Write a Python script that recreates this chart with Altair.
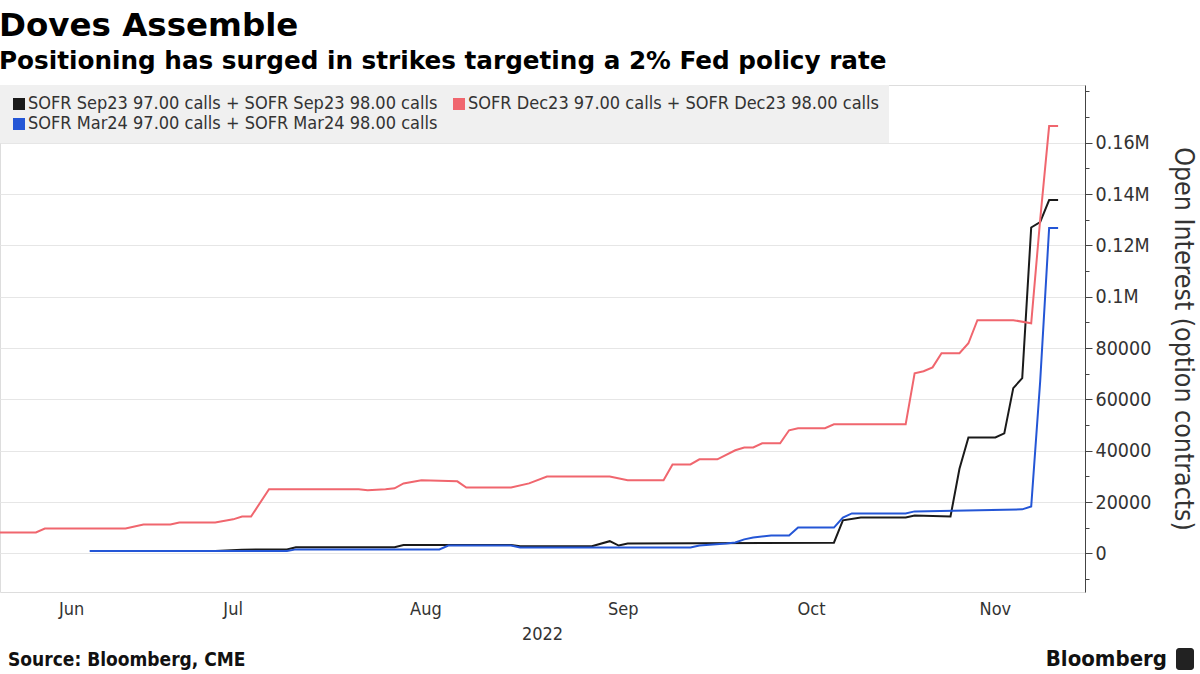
import altair as alt
import pandas as pd

# Trading calendar for the window on the chart (exchange holidays removed);
# the x axis runs on trading days, as Bloomberg charts do.
HOLIDAYS = ["2022-06-20", "2022-07-04", "2022-09-05", "2022-11-24"]
trading_days = pd.bdate_range("2022-06-08", "2022-11-30", freq="C", holidays=HOLIDAYS)
day_index = {d.strftime("%Y-%m-%d"): i for i, d in enumerate(trading_days)}

SERIES = [
    "SOFR Sep23 97.00 calls + SOFR Sep23 98.00 calls",
    "SOFR Dec23 97.00 calls + SOFR Dec23 98.00 calls",
    "SOFR Mar24 97.00 calls + SOFR Mar24 98.00 calls",
]
COLORS = ["#1a1a1a", "#f0666e", "#2456d6"]

# Open interest (option contracts), vertices of each line
sep23_dates = ["2022-07-12", "2022-07-14", "2022-07-19", "2022-07-26", "2022-07-27",
               "2022-08-11", "2022-08-12", "2022-08-30", "2022-08-31", "2022-09-13",
               "2022-09-15", "2022-09-16", "2022-09-19", "2022-10-20", "2022-10-21",
               "2022-10-25", "2022-11-01", "2022-11-02", "2022-11-08", "2022-11-09",
               "2022-11-10", "2022-11-15", "2022-11-16", "2022-11-17", "2022-11-18",
               "2022-11-21", "2022-11-22", "2022-11-23", "2022-11-25"]
sep23_values = [1000, 1000, 1500, 1600, 2400,
                2400, 3300, 3300, 2800, 2800,
                4800, 3100, 3900, 4200, 12900,
                14000, 14000, 14800, 14400, 33000,
                45200, 45200, 46800, 64400, 68300,
                127000, 129100, 137700, 137700]

dec23_dates = ["2022-06-08", "2022-06-14", "2022-06-15", "2022-06-29", "2022-07-01",
               "2022-07-07", "2022-07-08", "2022-07-14", "2022-07-18", "2022-07-19",
               "2022-07-20", "2022-07-22", "2022-08-05", "2022-08-08", "2022-08-10",
               "2022-08-11", "2022-08-12", "2022-08-16", "2022-08-22", "2022-08-23",
               "2022-08-30", "2022-09-01", "2022-09-06", "2022-09-15", "2022-09-19",
               "2022-09-23", "2022-09-26", "2022-09-28", "2022-09-29", "2022-10-03",
               "2022-10-05", "2022-10-06", "2022-10-07", "2022-10-10", "2022-10-12",
               "2022-10-13", "2022-10-14", "2022-10-19", "2022-10-20", "2022-11-01",
               "2022-11-02", "2022-11-03", "2022-11-04", "2022-11-07", "2022-11-09",
               "2022-11-10", "2022-11-11", "2022-11-17", "2022-11-21", "2022-11-22",
               "2022-11-23", "2022-11-25"]
dec23_values = [8200, 8200, 9700, 9700, 11300,
                11300, 12100, 12100, 13300, 14400,
                14400, 25000, 25000, 24600, 25000,
                25400, 27300, 28500, 28100, 25700,
                25700, 27300, 30000, 30000, 28500,
                28500, 34700, 34700, 36700, 36700,
                40200, 41300, 41300, 42900, 42900,
                48000, 48800, 48800, 50300, 50300,
                70200, 71000, 72500, 78000, 78000,
                81900, 90900, 90900, 89700, 130000,
                166500, 166500]

mar24_dates = ["2022-06-23", "2022-07-26", "2022-07-27", "2022-08-18", "2022-08-19",
               "2022-08-30", "2022-08-31", "2022-09-28", "2022-09-29", "2022-10-04",
               "2022-10-05", "2022-10-06", "2022-10-07", "2022-10-11", "2022-10-13",
               "2022-10-14", "2022-10-20", "2022-10-21", "2022-10-24", "2022-11-01",
               "2022-11-02", "2022-11-18", "2022-11-21", "2022-11-22", "2022-11-23",
               "2022-11-25"]
mar24_values = [1000, 1000, 1600, 1600, 3100,
                3100, 2300, 2300, 3100, 3900,
                4300, 5500, 6200, 7000, 7000,
                10100, 10100, 14000, 15600, 15600,
                16400, 17200, 18300, 67000, 126800,
                126800]

rows = []
for name, dates, values in zip(SERIES, [sep23_dates, dec23_dates, mar24_dates],
                               [sep23_values, dec23_values, mar24_values]):
    for d, v in zip(dates, values):
        rows.append({"series": name, "date": d, "idx": day_index[d], "value": v})
df = pd.DataFrame(rows)

# Month boundaries (first trading day) and label positions (middle of each month)
last_idx = len(trading_days) - 1
months = pd.Series(range(len(trading_days)), index=trading_days)
month_starts, month_rows = [], []
for period, grp in months.groupby(trading_days.to_period("M")):
    start = grp.iloc[0]
    end = min(grp.iloc[-1] + 1, last_idx)
    if start > 0:
        month_starts.append(int(start))
    month_rows.append({"label": period.strftime("%b"), "mid": (start + end) / 2})
month_df = pd.DataFrame(month_rows)

FONT = "DejaVu Sans Condensed, DejaVu Sans"
TEXT = "#333333"
W, H = 1085, 507

x_scale = alt.Scale(domain=[0, last_idx], nice=False, zero=False)
y_scale = alt.Scale(domain=[-15000, 182500], nice=False, zero=False)
color_scale = alt.Scale(domain=SERIES, range=COLORS)

major = "datum.value >= 0 && datum.value <= 160000 && datum.value % 20000 == 0"

y_axis = alt.Axis(
    orient="right",
    values=list(range(-10000, 190000, 10000)),
    labelExpr=f"({major}) ? (datum.value >= 100000 ? format(datum.value / 1000000, '.2~f') + 'M' : format(datum.value, 'd')) : ''",
    labelFont=FONT, labelFontSize=19.5, labelColor=TEXT, labelPadding=3,
    domain=True, domainColor="#444444", domainWidth=1,
    ticks=True, tickColor="#444444", tickWidth=1,
    tickSize={"condition": {"test": major, "value": 7}, "value": 4},
    grid=True, gridColor="#e6e6e6", gridWidth=1,
    gridOpacity={"condition": {"test": major, "value": 1}, "value": 0},
    title="Open Interest (option contracts)", titleFont=FONT, titleFontSize=26.5,
    titleFontWeight="normal", titleColor=TEXT, titlePadding=18,
)

x_axis = alt.Axis(
    values=month_starts, labels=False, domain=False, title=None,
    grid=True, gridColor="#e6e6e6", gridWidth=1,
    ticks=True, tickSize=28, tickColor="#e6e6e6", tickWidth=1,
)

legend = alt.Legend(
    title=None, orient="none", legendX=0, legendY=0, columns=2, direction="horizontal",
    symbolType="square", symbolSize=144, symbolStrokeWidth=0,
    labelFont=FONT, labelFontSize=18, labelColor=TEXT, labelLimit=800, labelOffset=0,
    fillColor="#f0f0f0", padding=10, columnPadding=12, rowPadding=2,
)

# Filled legend swatches come from this layer (the points themselves have zero size)
swatches = alt.Chart(pd.DataFrame({"series": SERIES})).mark_square(size=0, opacity=1).encode(
    color=alt.Color("series:N", scale=color_scale, legend=legend),
)

lines = alt.Chart(df).mark_line(strokeWidth=2).encode(
    x=alt.X("idx:Q", scale=x_scale, axis=x_axis),
    y=alt.Y("value:Q", scale=y_scale, axis=y_axis),
    color=alt.Color("series:N", scale=color_scale, legend=legend),
)

month_labels = alt.Chart(month_df).mark_text(
    font=FONT, fontSize=18, color=TEXT, baseline="middle", align="center"
).encode(
    x=alt.X("mid:Q", scale=x_scale, axis=None),
    y=alt.value(H + 18),
    text="label:N",
)

year_label = alt.Chart(pd.DataFrame({"t": ["2022"]})).mark_text(
    font=FONT, fontSize=18, color=TEXT, baseline="middle", align="center"
).encode(text="t:N", x=alt.value(W / 2), y=alt.value(H + 43))

source = alt.Chart(pd.DataFrame({"t": ["Source: Bloomberg, CME"]})).mark_text(
    font=FONT, fontSize=19, fontWeight="bold", color="#111111", align="left", baseline="middle"
).encode(text="t:N", x=alt.value(8), y=alt.value(H + 68))

brand = alt.Chart(pd.DataFrame({"t": ["Bloomberg"]})).mark_text(
    font=FONT, fontSize=22, fontWeight="bold", color="#111111", align="right", baseline="middle"
).encode(text="t:N", x=alt.value(1167), y=alt.value(H + 67))

logo = alt.Chart(pd.DataFrame({"t": [0]})).mark_rect(color="#222222", cornerRadius=3).encode(
    x=alt.value(1176), x2=alt.value(1194), y=alt.value(H + 56), y2=alt.value(H + 78)
)

chart = alt.layer(swatches, lines, month_labels, year_label, source, brand, logo).properties(
    width=W, height=H,
    autosize=alt.AutoSizeParams(type="none"),
    padding={"left": 0, "top": 85, "right": 115, "bottom": 82},
    title=alt.TitleParams(
        "Doves Assemble",
        subtitle="Positioning has surged in strikes targeting a 2% Fed policy rate",
        anchor="start", dx=3, offset=11,
        font="DejaVu Sans", fontSize=32.5, fontWeight="bold", color="#000000",
        subtitleFont="DejaVu Sans", subtitleFontSize=24.7, subtitleFontWeight="bold",
        subtitleColor="#000000", subtitlePadding=7,
    ),
).configure_view(stroke=None).configure(background="white")

chart.save("out.html", embed_options={"renderer": "svg", "actions": False})
